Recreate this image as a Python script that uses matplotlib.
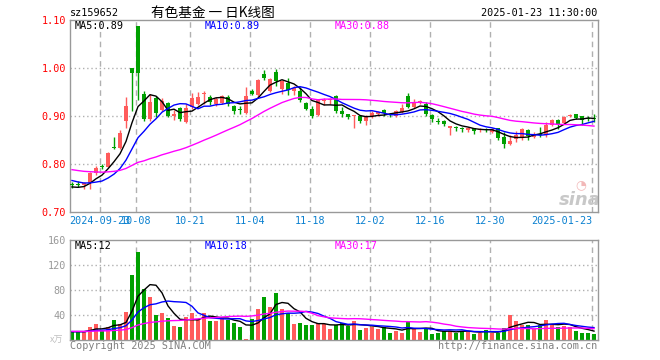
import numpy as np
import pandas as pd
import matplotlib
matplotlib.use("Agg")
import matplotlib.pyplot as plt

# ---------------- data ----------------
code = "sz159652"
title = "有色基金 一 日K线图"
timestamp = "2025-01-23 11:30:00"

tick_labels = ["2024-09-23", "10-08", "10-21", "11-04", "11-18",
               "12-02", "12-16", "12-30", "2025-01-23"]
tick_index = [5, 11, 20, 30, 40, 50, 60, 70, 87]

open_ = [0.757, 0.757, 0.756, 0.760, 0.782, 0.795, 0.794, 0.835, 0.834, 0.890,
         1.000, 1.088, 0.945, 0.893, 0.938, 0.913, 0.927, 0.901, 0.916, 0.888,
         0.919, 0.926, 0.946, 0.940, 0.924, 0.928, 0.940, 0.921, 0.913, 0.906,
         0.952, 0.943, 0.988, 0.953, 0.991, 0.956, 0.969, 0.953, 0.953, 0.928,
         0.914, 0.903, 0.931, 0.933, 0.942, 0.910, 0.904, 0.900, 0.899, 0.890,
         0.899, 0.905, 0.913, 0.904, 0.900, 0.909, 0.942, 0.919, 0.929, 0.926,
         0.903, 0.889, 0.890, 0.874, 0.875, 0.873, 0.871, 0.874, 0.870, 0.871,
         0.867, 0.874, 0.857, 0.842, 0.852, 0.857, 0.871, 0.857, 0.863, 0.860,
         0.881, 0.892, 0.885, 0.900, 0.904, 0.899, 0.895, 0.895]
high = [0.763, 0.764, 0.762, 0.783, 0.795, 0.800, 0.824, 0.856, 0.871, 0.940,
        1.000, 1.088, 0.952, 0.945, 0.941, 0.937, 0.929, 0.912, 0.918, 0.926,
        0.947, 0.949, 0.953, 0.944, 0.940, 0.944, 0.944, 0.923, 0.921, 0.960,
        0.956, 0.978, 0.996, 0.980, 0.997, 0.975, 0.980, 0.962, 0.961, 0.930,
        0.920, 0.936, 0.937, 0.937, 0.943, 0.918, 0.905, 0.903, 0.902, 0.902,
        0.911, 0.910, 0.915, 0.906, 0.913, 0.925, 0.947, 0.935, 0.934, 0.930,
        0.905, 0.895, 0.891, 0.880, 0.879, 0.878, 0.878, 0.876, 0.874, 0.876,
        0.876, 0.876, 0.866, 0.860, 0.868, 0.874, 0.873, 0.866, 0.878, 0.887,
        0.894, 0.894, 0.901, 0.904, 0.905, 0.901, 0.901, 0.904]
low = [0.749, 0.753, 0.748, 0.748, 0.777, 0.789, 0.793, 0.831, 0.832, 0.876,
       0.910, 0.933, 0.890, 0.890, 0.898, 0.910, 0.897, 0.892, 0.889, 0.886,
       0.915, 0.923, 0.926, 0.923, 0.921, 0.925, 0.921, 0.904, 0.904, 0.904,
       0.944, 0.940, 0.976, 0.950, 0.962, 0.945, 0.944, 0.944, 0.930, 0.912,
       0.895, 0.900, 0.923, 0.925, 0.907, 0.897, 0.894, 0.876, 0.886, 0.882,
       0.895, 0.900, 0.900, 0.897, 0.897, 0.906, 0.916, 0.916, 0.925, 0.901,
       0.888, 0.883, 0.879, 0.860, 0.869, 0.867, 0.867, 0.862, 0.867, 0.866,
       0.864, 0.850, 0.833, 0.840, 0.845, 0.850, 0.849, 0.855, 0.857, 0.857,
       0.879, 0.872, 0.883, 0.897, 0.893, 0.882, 0.890, 0.888]
close = [0.756, 0.756, 0.760, 0.782, 0.792, 0.794, 0.822, 0.834, 0.864, 0.921,
         0.989, 0.990, 0.893, 0.929, 0.906, 0.931, 0.900, 0.905, 0.893, 0.916,
         0.937, 0.940, 0.947, 0.930, 0.935, 0.942, 0.926, 0.911, 0.912, 0.942,
         0.946, 0.976, 0.980, 0.978, 0.972, 0.972, 0.954, 0.958, 0.933, 0.915,
         0.901, 0.934, 0.932, 0.934, 0.911, 0.904, 0.898, 0.902, 0.890, 0.899,
         0.907, 0.908, 0.906, 0.902, 0.910, 0.916, 0.919, 0.928, 0.931, 0.905,
         0.893, 0.888, 0.884, 0.879, 0.874, 0.872, 0.876, 0.868, 0.871, 0.870,
         0.872, 0.855, 0.841, 0.848, 0.860, 0.873, 0.859, 0.862, 0.860, 0.881,
         0.892, 0.883, 0.897, 0.901, 0.895, 0.892, 0.894, 0.893]
volume = [13, 13, 14, 21.6, 26.4, 14.1, 21.6, 32.8, 26.4, 45.6,
          104.8, 140.5, 82.4, 69.6, 40.8, 44, 36, 23.2, 21.6, 37.6,
          44, 34.4, 44, 31.2, 31.2, 36, 32.8, 28, 21.6, 2,
          34.4, 50.4, 69.6, 53.6, 76, 50.4, 44, 26.4, 28, 24.8,
          23.7, 28, 26.4, 18.4, 23.7, 28, 23.2, 31.2, 16.8, 20,
          21.6, 18.4, 21.6, 12, 15.2, 12, 31.2, 20, 13.6, 18.4,
          10.4, 12, 15.2, 15.2, 12, 15.2, 13.6, 10.4, 12, 16.8,
          12, 12, 20, 40.8, 31.2, 24.8, 24.8, 18.4, 24.8, 32.8,
          24.8, 21.6, 23.2, 21.6, 15.2, 12, 12, 10.4]

# sessions before the visible window (only feed the moving averages)
prior_close = [0.812, 0.808, 0.805, 0.810, 0.806, 0.803, 0.800, 0.804, 0.801, 0.798,
               0.800, 0.797, 0.795, 0.799, 0.796, 0.793, 0.790, 0.794, 0.791, 0.788,
               0.786, 0.782, 0.779, 0.776, 0.772, 0.760, 0.752, 0.748, 0.745]
prior_volume = [14, 13, 15, 14, 13, 16, 14, 13, 15, 14,
                13, 14, 15, 13, 14, 15, 13, 14, 14, 13,
                14, 15, 13, 14, 13, 12, 14, 13, 14]

price_ticks = [0.70, 0.80, 0.90, 1.00, 1.10]
volume_ticks = [40, 80, 120, 160]

ma_labels_price = ["MA5:0.89", "MA10:0.89", "MA30:0.88"]
ma_labels_volume = ["MA5:12", "MA10:18", "MA30:17"]

# ---------------- style ----------------
RED = "#ff5b5b"
GREEN = "#00a000"
FRAME = "#999999"
GRID = "#b0b0b0"
MONO = "DejaVu Sans Mono"
FS = 7.3

W, H = 660, 360
fig = plt.figure(figsize=(W / 100, H / 100), dpi=100)


def fx(px):
    return px / W


def fy(py):
    return 1 - py / H


ax1 = fig.add_axes([fx(70), fy(212), 528 / W, 192 / H])
ax2 = fig.add_axes([fx(70), fy(340), 528 / W, 100 / H])

n = len(close)
x = np.arange(n)
o = np.array(open_)
c = np.array(close)
hi = np.array(high)
lo = np.array(low)
v = np.array(volume)
colors = [RED if cc >= oo else GREEN for oo, cc in zip(o, c)]


def ma(hist, series, k):
    full = pd.Series(list(hist) + list(series), dtype=float)
    return full.rolling(k).mean().to_numpy()[-len(series):]


grid_x = [i - 0.3 for i in tick_index]

for ax in (ax1, ax2):
    ax.set_xlim(-1 / 3, n - 1 + 2 / 3)
    for s in ax.spines.values():
        s.set_color(FRAME)
        s.set_linewidth(1.0)
    for gx in grid_x:
        ax.axvline(gx, color=GRID, lw=1.0, ls=(0, (4, 3)), zorder=0)
    ax.tick_params(length=0)

# sina watermark (drawn behind the data)
ax1.text(0.968, 0.14, "◔", transform=ax1.transAxes, color="#f2b8b8",
         fontsize=9, family="DejaVu Sans", va="center", ha="center", zorder=1)
ax1.text(0.965, 0.065, "sina", transform=ax1.transAxes, color="#c8c8c8",
         fontsize=13, fontweight="bold", style="italic", family="DejaVu Sans",
         va="center", ha="center", zorder=1)

# main price panel
ax1.set_ylim(0.70, 1.10)
for yv in price_ticks[1:-1]:
    ax1.axhline(yv, color=GRID, lw=1.0, ls=(0, (1, 2)), zorder=0)
ax1.vlines(x, lo, hi, colors=colors, lw=1.0, zorder=2)
body_bottom = np.minimum(o, c)
body_h = np.maximum(np.abs(c - o), 0.0021)
ax1.bar(x, body_h, bottom=body_bottom, width=0.8, color=colors, linewidth=0, zorder=3)
ax1.plot(x, ma(prior_close, close, 5), color="black", lw=1.0, zorder=4)
ax1.plot(x, ma(prior_close, close, 10), color="#0000ff", lw=1.0, zorder=4)
ax1.plot(x, ma(prior_close, close, 30), color="#ff00ff", lw=1.0, zorder=4)

ax1.set_yticks(price_ticks)
ax1.set_yticklabels([f"{t:.2f}" for t in price_ticks], color="#ff0000",
                    fontsize=FS, family=MONO)
ax1.tick_params(axis="y", pad=3)
ax1.set_xticks(grid_x)
ax1.set_xticklabels(tick_labels, color="#0a80d0", fontsize=FS, family=MONO)
ax1.tick_params(axis="x", pad=3)
lbls = ax1.get_xticklabels()
lbls[-1].set_horizontalalignment("right")

# volume panel
ax2.set_ylim(0, 160)
for yv in volume_ticks[:-1]:
    ax2.axhline(yv, color=GRID, lw=1.0, ls=(0, (1, 2)), zorder=0)
ax2.bar(x, v, width=0.83, color=colors, linewidth=0, zorder=2)
ax2.plot(x, ma(prior_volume, volume, 5), color="black", lw=1.0, zorder=4)
ax2.plot(x, ma(prior_volume, volume, 10), color="#0000ff", lw=1.0, zorder=4)
ax2.plot(x, ma(prior_volume, volume, 30), color="#ff00ff", lw=1.0, zorder=4)
ax2.set_yticks(volume_ticks)
ax2.set_yticklabels([str(t) for t in volume_ticks], color="#999999",
                    fontsize=FS, family=MONO)
ax2.tick_params(axis="y", pad=3)
ax2.set_xticks([])

# texts
fig.text(fx(70), fy(13), code, fontsize=FS, family=MONO, va="center", ha="left")
fig.text(fx(213), fy(13), title, fontsize=9.8,
         family=["Noto Sans CJK SC", "DejaVu Sans"], va="center", ha="center")
fig.text(fx(597), fy(13), timestamp, fontsize=FS, family=MONO, va="center", ha="right")

for (px, col), lab in zip([(75, "black"), (205, "#0000ff"), (335, "#ff00ff")], ma_labels_price):
    fig.text(fx(px), fy(26), lab, color=col, fontsize=FS, family=MONO, va="center", ha="left")
for (px, col), lab in zip([(75, "black"), (205, "#0000ff"), (335, "#ff00ff")], ma_labels_volume):
    fig.text(fx(px), fy(246), lab, color=col, fontsize=FS, family=MONO, va="center", ha="left")

fig.text(fx(63), fy(340), "x万", color="#c0c0c0", fontsize=6.5,
         family=["Noto Sans CJK SC", "DejaVu Sans"], va="center", ha="right")
fig.text(fx(70), fy(346), "Copyright 2025 SINA.COM", color="#808080",
         fontsize=FS, family=MONO, va="center", ha="left")
fig.text(fx(597), fy(346), "http://finance.sina.com.cn", color="#808080",
         fontsize=FS, family=MONO, va="center", ha="right")

fig.savefig("out.png", dpi=100)
